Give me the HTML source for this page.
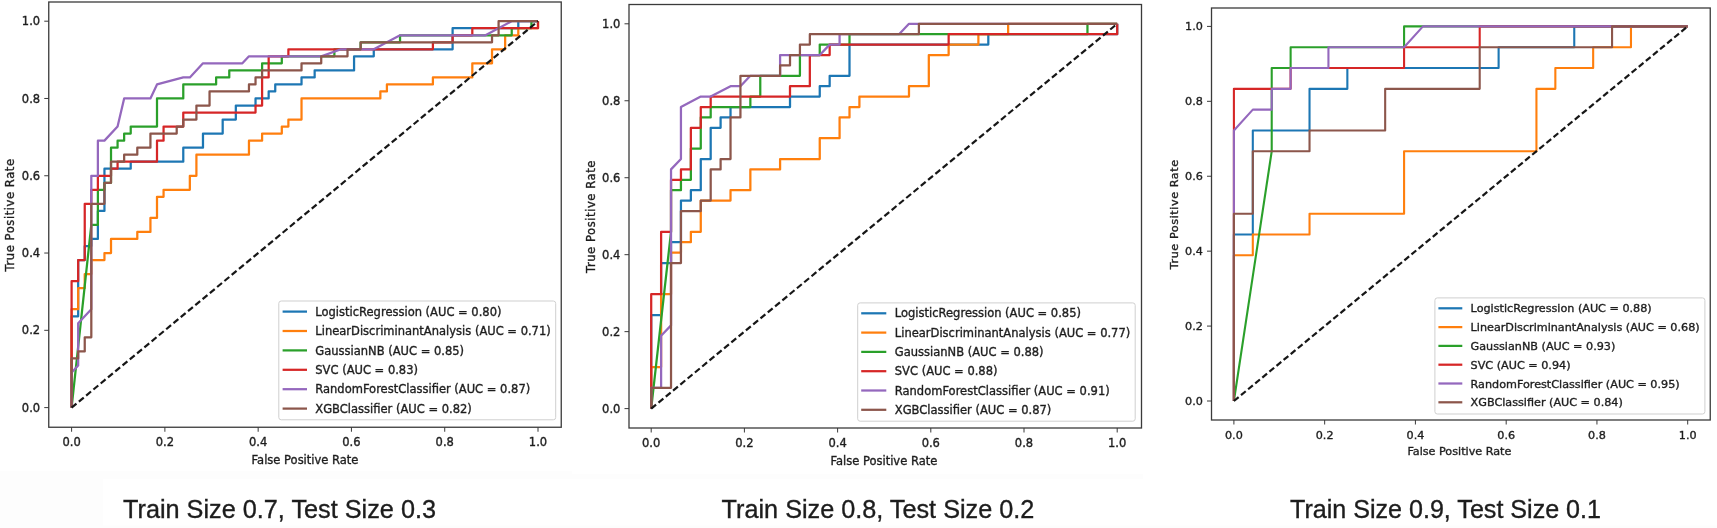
<!DOCTYPE html>
<html lang="en"><head><meta charset="utf-8"><title>ROC curves</title>
<style>html,body{margin:0;padding:0;background:#fdfdfd;}body{width:1717px;height:528px;overflow:hidden;position:relative;}svg{position:absolute;left:0;top:0;display:block;}</style>
</head><body>
<svg width="1717" height="528" viewBox="0 0 1717 528">
<defs><filter id="soft" x="-2%" y="-2%" width="104%" height="104%"><feGaussianBlur stdDeviation="0.5"/></filter><filter id="soft2" x="-2%" y="-20%" width="104%" height="140%"><feGaussianBlur stdDeviation="0.4"/></filter></defs>
<rect x="0" y="0" width="1717" height="528" fill="#fdfdfd"/>
<rect x="0" y="0" width="572" height="470.7" fill="#ffffff"/>
<rect x="572" y="0" width="571" height="473.7" fill="#ffffff"/>
<rect x="1143" y="0" width="574" height="479.5" fill="#ffffff"/>
<rect x="103.3" y="479" width="1614" height="46.5" fill="#ffffff"/>
<g font-family="'DejaVu Sans','Liberation Sans',sans-serif" font-size="11.5" fill="#1f1f1f" stroke="#1f1f1f" stroke-width="0.36" filter="url(#soft)">
<polyline points="71.60,407.60 71.60,316.27 78.17,316.27 78.17,260.07 84.74,260.07 84.74,246.01 91.31,246.01 91.31,238.99 97.88,238.99 97.88,210.89 104.45,210.89 104.45,168.73 130.72,168.73 130.72,161.71 183.27,161.71 183.27,147.66 202.98,147.66 202.98,133.61 222.69,133.61 222.69,119.56 235.83,119.56 235.83,105.51 255.53,105.51 255.53,98.48 268.67,98.48 268.67,91.45 275.24,91.45 275.24,84.43 301.52,84.43 301.52,77.40 314.65,77.40 314.65,70.38 354.07,70.38 354.07,56.33 373.77,56.33 373.77,49.30 452.60,49.30 452.60,28.23 518.29,28.23 518.29,21.20 538.00,21.20" fill="none" stroke="#1f77b4" stroke-width="2.25" stroke-linejoin="round" stroke-linecap="butt"/>
<polyline points="71.60,407.60 71.60,309.24 78.17,309.24 78.17,288.17 84.74,288.17 84.74,274.12 91.31,274.12 91.31,260.07 104.45,260.07 104.45,253.04 111.01,253.04 111.01,238.99 137.29,238.99 137.29,231.96 150.43,231.96 150.43,217.91 157.00,217.91 157.00,196.84 163.57,196.84 163.57,189.81 189.84,189.81 189.84,175.76 196.41,175.76 196.41,154.68 248.96,154.68 248.96,140.63 262.10,140.63 262.10,133.61 281.81,133.61 281.81,126.58 288.38,126.58 288.38,119.56 301.52,119.56 301.52,98.48 380.34,98.48 380.34,91.45 386.91,91.45 386.91,84.43 432.90,84.43 432.90,77.40 472.31,77.40 472.31,63.35 492.02,63.35 492.02,49.30 505.15,49.30 505.15,35.25 518.29,35.25 518.29,28.23 538.00,28.23 538.00,21.20" fill="none" stroke="#ff7f0e" stroke-width="2.25" stroke-linejoin="round" stroke-linecap="butt"/>
<polyline points="71.60,407.60 91.31,224.94 97.88,224.94 97.88,189.81 104.45,189.81 104.45,182.79 111.01,182.79 111.01,147.66 117.58,147.66 117.58,140.63 124.15,140.63 124.15,133.61 130.72,133.61 130.72,126.58 157.00,126.58 157.00,98.48 183.27,98.48 183.27,84.43 216.12,84.43 216.12,77.40 229.26,77.40 229.26,70.38 262.10,70.38 262.10,63.35 281.81,63.35 281.81,56.33 334.36,56.33 334.36,49.30 360.64,49.30 360.64,42.28 400.05,42.28 400.05,35.25 511.72,35.25 511.72,28.23 531.43,28.23 531.43,21.20 538.00,21.20" fill="none" stroke="#2ca02c" stroke-width="2.25" stroke-linejoin="round" stroke-linecap="butt"/>
<polyline points="71.60,407.60 71.60,281.14 78.17,281.14 78.17,260.07 84.74,260.07 84.74,203.86 91.31,203.86 91.31,189.81 97.88,189.81 97.88,175.76 111.01,175.76 111.01,168.73 117.58,168.73 117.58,161.71 157.00,161.71 157.00,140.63 163.57,140.63 163.57,126.58 183.27,126.58 183.27,112.53 255.53,112.53 255.53,105.51 262.10,105.51 262.10,77.40 268.67,77.40 268.67,56.33 288.38,56.33 288.38,49.30 432.90,49.30 432.90,42.28 452.60,42.28 452.60,35.25 472.31,35.25 472.31,28.23 538.00,28.23 538.00,21.20" fill="none" stroke="#d62728" stroke-width="2.25" stroke-linejoin="round" stroke-linecap="butt"/>
<polyline points="71.60,407.60 71.60,372.47 78.17,365.45 78.17,323.29 91.31,309.24 91.31,175.76 97.88,175.76 97.88,140.63 104.45,140.63 117.58,126.58 124.15,98.48 150.43,98.48 157.00,84.43 183.27,77.40 189.84,77.40 202.98,63.35 242.39,63.35 248.96,56.33 321.22,56.33 340.93,49.30 373.77,49.30 400.05,35.25 485.45,35.25 511.72,21.20 538.00,21.20" fill="none" stroke="#9467bd" stroke-width="2.25" stroke-linejoin="round" stroke-linecap="butt"/>
<polyline points="71.60,407.60 71.60,358.42 78.17,358.42 78.17,351.40 84.74,351.40 84.74,337.35 91.31,337.35 91.31,203.86 104.45,203.86 104.45,182.79 111.01,182.79 111.01,161.71 124.15,161.71 124.15,154.68 137.29,154.68 137.29,147.66 150.43,147.66 150.43,133.61 176.70,133.61 176.70,126.58 183.27,126.58 183.27,119.56 196.41,119.56 196.41,105.51 209.55,105.51 209.55,91.45 248.96,91.45 248.96,84.43 255.53,84.43 255.53,77.40 262.10,77.40 262.10,70.38 301.52,70.38 301.52,63.35 321.22,63.35 321.22,56.33 347.50,56.33 347.50,49.30 360.64,49.30 360.64,42.28 492.02,42.28 492.02,35.25 498.59,35.25 498.59,21.20 538.00,21.20" fill="none" stroke="#8c564b" stroke-width="2.25" stroke-linejoin="round" stroke-linecap="butt"/>
<line x1="71.60" y1="407.60" x2="538.00" y2="21.20" stroke="#161616" stroke-width="2.2" stroke-dasharray="6.30 3.15"/>
<rect x="48.75" y="2.0" width="512.5" height="425.25" fill="none" stroke="#3a3a3a" stroke-width="1.3"/>
<line x1="71.60" y1="427.25" x2="71.60" y2="431.75" stroke="#3a3a3a" stroke-width="1"/>
<text x="71.60" y="446.39" text-anchor="middle">0.0</text>
<line x1="44.25" y1="407.60" x2="48.75" y2="407.60" stroke="#3a3a3a" stroke-width="1"/>
<text x="40.15" y="411.74" text-anchor="end">0.0</text>
<line x1="164.88" y1="427.25" x2="164.88" y2="431.75" stroke="#3a3a3a" stroke-width="1"/>
<text x="164.88" y="446.39" text-anchor="middle">0.2</text>
<line x1="44.25" y1="330.32" x2="48.75" y2="330.32" stroke="#3a3a3a" stroke-width="1"/>
<text x="40.15" y="334.46" text-anchor="end">0.2</text>
<line x1="258.16" y1="427.25" x2="258.16" y2="431.75" stroke="#3a3a3a" stroke-width="1"/>
<text x="258.16" y="446.39" text-anchor="middle">0.4</text>
<line x1="44.25" y1="253.04" x2="48.75" y2="253.04" stroke="#3a3a3a" stroke-width="1"/>
<text x="40.15" y="257.18" text-anchor="end">0.4</text>
<line x1="351.44" y1="427.25" x2="351.44" y2="431.75" stroke="#3a3a3a" stroke-width="1"/>
<text x="351.44" y="446.39" text-anchor="middle">0.6</text>
<line x1="44.25" y1="175.76" x2="48.75" y2="175.76" stroke="#3a3a3a" stroke-width="1"/>
<text x="40.15" y="179.90" text-anchor="end">0.6</text>
<line x1="444.72" y1="427.25" x2="444.72" y2="431.75" stroke="#3a3a3a" stroke-width="1"/>
<text x="444.72" y="446.39" text-anchor="middle">0.8</text>
<line x1="44.25" y1="98.48" x2="48.75" y2="98.48" stroke="#3a3a3a" stroke-width="1"/>
<text x="40.15" y="102.62" text-anchor="end">0.8</text>
<line x1="538.00" y1="427.25" x2="538.00" y2="431.75" stroke="#3a3a3a" stroke-width="1"/>
<text x="538.00" y="446.39" text-anchor="middle">1.0</text>
<line x1="44.25" y1="21.20" x2="48.75" y2="21.20" stroke="#3a3a3a" stroke-width="1"/>
<text x="40.15" y="25.34" text-anchor="end">1.0</text>
<text x="305.00" y="464.05" text-anchor="middle">False Positive Rate</text>
<text transform="translate(14.25,271.40) rotate(-90)" textLength="112.4" lengthAdjust="spacing">True Positive Rate</text>
<rect x="278.8" y="301" width="276.90" height="118.80" rx="2.4" fill="#fff" fill-opacity="0.8" stroke="#cfcfcf" stroke-width="1"/>
<line x1="282.6" y1="311.6" x2="307" y2="311.6" stroke="#1f77b4" stroke-width="2.25"/>
<text x="315.3" y="315.74">LogisticRegression (AUC = 0.80)</text>
<line x1="282.6" y1="331.0" x2="307" y2="331.0" stroke="#ff7f0e" stroke-width="2.25"/>
<text x="315.3" y="335.14">LinearDiscriminantAnalysis (AUC = 0.71)</text>
<line x1="282.6" y1="350.4" x2="307" y2="350.4" stroke="#2ca02c" stroke-width="2.25"/>
<text x="315.3" y="354.54">GaussianNB (AUC = 0.85)</text>
<line x1="282.6" y1="369.8" x2="307" y2="369.8" stroke="#d62728" stroke-width="2.25"/>
<text x="315.3" y="373.94">SVC (AUC = 0.83)</text>
<line x1="282.6" y1="389.2" x2="307" y2="389.2" stroke="#9467bd" stroke-width="2.25"/>
<text x="315.3" y="393.34">RandomForestClassifier (AUC = 0.87)</text>
<line x1="282.6" y1="408.6" x2="307" y2="408.6" stroke="#8c564b" stroke-width="2.25"/>
<text x="315.3" y="412.74">XGBClassifier (AUC = 0.82)</text>
</g>
<g font-family="'DejaVu Sans','Liberation Sans',sans-serif" font-size="11.5" fill="#1f1f1f" stroke="#1f1f1f" stroke-width="0.36" filter="url(#soft)">
<polyline points="651.20,408.60 651.20,315.00 661.11,315.00 661.11,263.00 671.03,263.00 671.03,242.20 680.94,242.20 680.94,200.60 690.86,200.60 690.86,190.20 700.77,190.20 700.77,159.00 710.69,159.00 710.69,127.80 720.60,127.80 720.60,117.40 730.52,117.40 730.52,107.00 790.01,107.00 790.01,96.60 819.75,96.60 819.75,86.20 829.67,86.20 829.67,75.80 849.50,75.80 849.50,44.60 988.31,44.60 988.31,34.20 1117.20,34.20 1117.20,23.80" fill="none" stroke="#1f77b4" stroke-width="2.25" stroke-linejoin="round" stroke-linecap="butt"/>
<polyline points="651.20,408.60 651.20,367.00 661.11,367.00 661.11,294.20 671.03,294.20 671.03,252.60 680.94,252.60 680.94,242.20 690.86,242.20 690.86,231.80 700.77,231.80 700.77,200.60 730.52,200.60 730.52,190.20 750.35,190.20 750.35,169.40 780.09,169.40 780.09,159.00 819.75,159.00 819.75,138.20 839.58,138.20 839.58,117.40 849.50,117.40 849.50,107.00 859.41,107.00 859.41,96.60 908.99,96.60 908.99,86.20 928.82,86.20 928.82,55.00 948.65,55.00 948.65,44.60 978.39,44.60 978.39,34.20 1008.14,34.20 1008.14,23.80 1117.20,23.80" fill="none" stroke="#ff7f0e" stroke-width="2.25" stroke-linejoin="round" stroke-linecap="butt"/>
<polyline points="651.20,408.60 671.03,231.80 671.03,190.20 680.94,190.20 680.94,179.80 690.86,179.80 690.86,148.60 700.77,148.60 700.77,117.40 710.69,117.40 710.69,107.00 750.35,107.00 750.35,96.60 760.26,96.60 760.26,75.80 799.92,75.80 799.92,55.00 819.75,55.00 819.75,44.60 849.50,44.60 849.50,34.20 1087.46,34.20 1087.46,23.80 1117.20,23.80" fill="none" stroke="#2ca02c" stroke-width="2.25" stroke-linejoin="round" stroke-linecap="butt"/>
<polyline points="651.20,408.60 651.20,294.20 661.11,294.20 661.11,231.80 671.03,231.80 671.03,179.80 680.94,179.80 680.94,169.40 690.86,169.40 690.86,127.80 700.77,127.80 700.77,107.00 710.69,107.00 710.69,96.60 790.01,96.60 790.01,86.20 809.84,86.20 809.84,55.00 829.67,55.00 829.67,44.60 948.65,44.60 948.65,34.20 1117.20,34.20 1117.20,23.80" fill="none" stroke="#d62728" stroke-width="2.25" stroke-linejoin="round" stroke-linecap="butt"/>
<polyline points="651.20,408.60 651.20,387.80 661.11,387.80 661.11,335.80 671.03,325.40 671.03,169.40 680.94,159.00 680.94,107.00 700.77,96.60 710.69,96.60 730.52,86.20 740.43,86.20 750.35,75.80 780.09,75.80 780.09,55.00 819.75,55.00 829.67,44.60 839.58,44.60 839.58,34.20 899.07,34.20 908.99,23.80 1117.20,23.80" fill="none" stroke="#9467bd" stroke-width="2.25" stroke-linejoin="round" stroke-linecap="butt"/>
<polyline points="651.20,408.60 651.20,387.80 671.03,387.80 671.03,263.00 680.94,263.00 680.94,211.00 700.77,211.00 700.77,200.60 710.69,200.60 710.69,169.40 720.60,169.40 720.60,159.00 730.52,159.00 730.52,117.40 740.43,117.40 740.43,75.80 780.09,75.80 780.09,65.40 790.01,65.40 790.01,55.00 799.92,55.00 799.92,44.60 809.84,44.60 809.84,34.20 918.90,34.20 918.90,23.80 1117.20,23.80" fill="none" stroke="#8c564b" stroke-width="2.25" stroke-linejoin="round" stroke-linecap="butt"/>
<line x1="651.20" y1="408.60" x2="1117.20" y2="23.80" stroke="#161616" stroke-width="2.2" stroke-dasharray="6.30 3.15"/>
<rect x="629.0" y="4.5" width="512.5" height="423.5" fill="none" stroke="#3a3a3a" stroke-width="1.3"/>
<line x1="651.20" y1="428.0" x2="651.20" y2="432.5" stroke="#3a3a3a" stroke-width="1"/>
<text x="651.20" y="447.14" text-anchor="middle">0.0</text>
<line x1="624.5" y1="408.60" x2="629.0" y2="408.60" stroke="#3a3a3a" stroke-width="1"/>
<text x="620.40" y="412.74" text-anchor="end">0.0</text>
<line x1="744.40" y1="428.0" x2="744.40" y2="432.5" stroke="#3a3a3a" stroke-width="1"/>
<text x="744.40" y="447.14" text-anchor="middle">0.2</text>
<line x1="624.5" y1="331.64" x2="629.0" y2="331.64" stroke="#3a3a3a" stroke-width="1"/>
<text x="620.40" y="335.78" text-anchor="end">0.2</text>
<line x1="837.60" y1="428.0" x2="837.60" y2="432.5" stroke="#3a3a3a" stroke-width="1"/>
<text x="837.60" y="447.14" text-anchor="middle">0.4</text>
<line x1="624.5" y1="254.68" x2="629.0" y2="254.68" stroke="#3a3a3a" stroke-width="1"/>
<text x="620.40" y="258.82" text-anchor="end">0.4</text>
<line x1="930.80" y1="428.0" x2="930.80" y2="432.5" stroke="#3a3a3a" stroke-width="1"/>
<text x="930.80" y="447.14" text-anchor="middle">0.6</text>
<line x1="624.5" y1="177.72" x2="629.0" y2="177.72" stroke="#3a3a3a" stroke-width="1"/>
<text x="620.40" y="181.86" text-anchor="end">0.6</text>
<line x1="1024.00" y1="428.0" x2="1024.00" y2="432.5" stroke="#3a3a3a" stroke-width="1"/>
<text x="1024.00" y="447.14" text-anchor="middle">0.8</text>
<line x1="624.5" y1="100.76" x2="629.0" y2="100.76" stroke="#3a3a3a" stroke-width="1"/>
<text x="620.40" y="104.90" text-anchor="end">0.8</text>
<line x1="1117.20" y1="428.0" x2="1117.20" y2="432.5" stroke="#3a3a3a" stroke-width="1"/>
<text x="1117.20" y="447.14" text-anchor="middle">1.0</text>
<line x1="624.5" y1="23.80" x2="629.0" y2="23.80" stroke="#3a3a3a" stroke-width="1"/>
<text x="620.40" y="27.94" text-anchor="end">1.0</text>
<text x="883.85" y="464.80" text-anchor="middle">False Positive Rate</text>
<text transform="translate(594.50,273.03) rotate(-90)" textLength="112.4" lengthAdjust="spacing">True Positive Rate</text>
<rect x="857.7" y="302.9" width="277.50" height="118.30" rx="2.4" fill="#fff" fill-opacity="0.8" stroke="#cfcfcf" stroke-width="1"/>
<line x1="861.2" y1="313.3" x2="886.3" y2="313.3" stroke="#1f77b4" stroke-width="2.25"/>
<text x="894.8" y="317.44">LogisticRegression (AUC = 0.85)</text>
<line x1="861.2" y1="332.6" x2="886.3" y2="332.6" stroke="#ff7f0e" stroke-width="2.25"/>
<text x="894.8" y="336.74">LinearDiscriminantAnalysis (AUC = 0.77)</text>
<line x1="861.2" y1="351.9" x2="886.3" y2="351.9" stroke="#2ca02c" stroke-width="2.25"/>
<text x="894.8" y="356.04">GaussianNB (AUC = 0.88)</text>
<line x1="861.2" y1="371.2" x2="886.3" y2="371.2" stroke="#d62728" stroke-width="2.25"/>
<text x="894.8" y="375.34">SVC (AUC = 0.88)</text>
<line x1="861.2" y1="390.5" x2="886.3" y2="390.5" stroke="#9467bd" stroke-width="2.25"/>
<text x="894.8" y="394.64">RandomForestClassifier (AUC = 0.91)</text>
<line x1="861.2" y1="409.8" x2="886.3" y2="409.8" stroke="#8c564b" stroke-width="2.25"/>
<text x="894.8" y="413.94">XGBClassifier (AUC = 0.87)</text>
</g>
<g font-family="'DejaVu Sans','Liberation Sans',sans-serif" font-size="11.2" fill="#1f1f1f" stroke="#1f1f1f" stroke-width="0.36" filter="url(#soft)">
<polyline points="1233.90,401.00 1233.90,234.51 1252.81,234.51 1252.81,130.46 1309.53,130.46 1309.53,88.83 1347.35,88.83 1347.35,68.02 1498.62,68.02 1498.62,47.21 1574.25,47.21 1574.25,26.40 1687.70,26.40" fill="none" stroke="#1f77b4" stroke-width="2.1" stroke-linejoin="round" stroke-linecap="butt"/>
<polyline points="1233.90,401.00 1233.90,255.32 1252.81,255.32 1252.81,234.51 1309.53,234.51 1309.53,213.70 1404.08,213.70 1404.08,151.27 1536.43,151.27 1536.43,88.83 1555.34,88.83 1555.34,68.02 1593.16,68.02 1593.16,47.21 1630.97,47.21 1630.97,26.40 1687.70,26.40" fill="none" stroke="#ff7f0e" stroke-width="2.1" stroke-linejoin="round" stroke-linecap="butt"/>
<polyline points="1233.90,401.00 1271.72,151.27 1271.72,68.02 1290.62,68.02 1290.62,47.21 1404.08,47.21 1404.08,26.40 1687.70,26.40" fill="none" stroke="#2ca02c" stroke-width="2.1" stroke-linejoin="round" stroke-linecap="butt"/>
<polyline points="1233.90,401.00 1233.90,88.83 1290.62,88.83 1290.62,68.02 1404.08,68.02 1404.08,47.21 1479.71,47.21 1479.71,26.40 1687.70,26.40" fill="none" stroke="#d62728" stroke-width="2.1" stroke-linejoin="round" stroke-linecap="butt"/>
<polyline points="1233.90,401.00 1233.90,130.46 1252.81,109.64 1271.72,109.64 1271.72,88.83 1290.62,88.83 1290.62,68.02 1328.44,68.02 1328.44,47.21 1404.08,47.21 1422.98,26.40 1687.70,26.40" fill="none" stroke="#9467bd" stroke-width="2.1" stroke-linejoin="round" stroke-linecap="butt"/>
<polyline points="1233.90,401.00 1233.90,213.70 1252.81,213.70 1252.81,151.27 1309.53,151.27 1309.53,130.46 1385.17,130.46 1385.17,88.83 1479.71,88.83 1479.71,47.21 1612.07,47.21 1612.07,26.40 1687.70,26.40" fill="none" stroke="#8c564b" stroke-width="2.1" stroke-linejoin="round" stroke-linecap="butt"/>
<line x1="1233.90" y1="401.00" x2="1687.70" y2="26.40" stroke="#161616" stroke-width="2.2" stroke-dasharray="6.14 3.07"/>
<rect x="1211.5" y="8.0" width="498.75" height="412.0" fill="none" stroke="#3a3a3a" stroke-width="1.3"/>
<line x1="1233.90" y1="420.0" x2="1233.90" y2="424.5" stroke="#3a3a3a" stroke-width="1"/>
<text x="1233.90" y="438.91" text-anchor="middle">0.0</text>
<line x1="1207.0" y1="401.00" x2="1211.5" y2="401.00" stroke="#3a3a3a" stroke-width="1"/>
<text x="1202.90" y="405.03" text-anchor="end">0.0</text>
<line x1="1324.66" y1="420.0" x2="1324.66" y2="424.5" stroke="#3a3a3a" stroke-width="1"/>
<text x="1324.66" y="438.91" text-anchor="middle">0.2</text>
<line x1="1207.0" y1="326.08" x2="1211.5" y2="326.08" stroke="#3a3a3a" stroke-width="1"/>
<text x="1202.90" y="330.11" text-anchor="end">0.2</text>
<line x1="1415.42" y1="420.0" x2="1415.42" y2="424.5" stroke="#3a3a3a" stroke-width="1"/>
<text x="1415.42" y="438.91" text-anchor="middle">0.4</text>
<line x1="1207.0" y1="251.16" x2="1211.5" y2="251.16" stroke="#3a3a3a" stroke-width="1"/>
<text x="1202.90" y="255.19" text-anchor="end">0.4</text>
<line x1="1506.18" y1="420.0" x2="1506.18" y2="424.5" stroke="#3a3a3a" stroke-width="1"/>
<text x="1506.18" y="438.91" text-anchor="middle">0.6</text>
<line x1="1207.0" y1="176.24" x2="1211.5" y2="176.24" stroke="#3a3a3a" stroke-width="1"/>
<text x="1202.90" y="180.27" text-anchor="end">0.6</text>
<line x1="1596.94" y1="420.0" x2="1596.94" y2="424.5" stroke="#3a3a3a" stroke-width="1"/>
<text x="1596.94" y="438.91" text-anchor="middle">0.8</text>
<line x1="1207.0" y1="101.32" x2="1211.5" y2="101.32" stroke="#3a3a3a" stroke-width="1"/>
<text x="1202.90" y="105.35" text-anchor="end">0.8</text>
<line x1="1687.70" y1="420.0" x2="1687.70" y2="424.5" stroke="#3a3a3a" stroke-width="1"/>
<text x="1687.70" y="438.91" text-anchor="middle">1.0</text>
<line x1="1207.0" y1="26.40" x2="1211.5" y2="26.40" stroke="#3a3a3a" stroke-width="1"/>
<text x="1202.90" y="30.43" text-anchor="end">1.0</text>
<text x="1459.38" y="454.84" text-anchor="middle">False Positive Rate</text>
<text transform="translate(1177.90,269.31) rotate(-90)" textLength="109.4" lengthAdjust="spacing">True Positive Rate</text>
<rect x="1434.9" y="297.9" width="270.00" height="116.10" rx="2.4" fill="#fff" fill-opacity="0.8" stroke="#cfcfcf" stroke-width="1"/>
<line x1="1438.4" y1="308.3" x2="1462.3" y2="308.3" stroke="#1f77b4" stroke-width="2.25"/>
<text x="1470.6" y="312.33">LogisticRegression (AUC = 0.88)</text>
<line x1="1438.4" y1="327.1" x2="1462.3" y2="327.1" stroke="#ff7f0e" stroke-width="2.25"/>
<text x="1470.6" y="331.13">LinearDiscriminantAnalysis (AUC = 0.68)</text>
<line x1="1438.4" y1="345.9" x2="1462.3" y2="345.9" stroke="#2ca02c" stroke-width="2.25"/>
<text x="1470.6" y="349.93">GaussianNB (AUC = 0.93)</text>
<line x1="1438.4" y1="364.7" x2="1462.3" y2="364.7" stroke="#d62728" stroke-width="2.25"/>
<text x="1470.6" y="368.73">SVC (AUC = 0.94)</text>
<line x1="1438.4" y1="383.5" x2="1462.3" y2="383.5" stroke="#9467bd" stroke-width="2.25"/>
<text x="1470.6" y="387.53">RandomForestClassifier (AUC = 0.95)</text>
<line x1="1438.4" y1="402.3" x2="1462.3" y2="402.3" stroke="#8c564b" stroke-width="2.25"/>
<text x="1470.6" y="406.33">XGBClassifier (AUC = 0.84)</text>
</g>
<g font-family="'Liberation Sans',sans-serif" font-size="25.5" fill="#1c1c1c" stroke="#1c1c1c" stroke-width="0.35" filter="url(#soft2)">
<text x="123.0" y="518.2" textLength="313.0" lengthAdjust="spacingAndGlyphs">Train Size 0.7, Test Size 0.3</text>
<text x="721.6" y="517.9" textLength="312.7" lengthAdjust="spacingAndGlyphs">Train Size 0.8, Test Size 0.2</text>
<text x="1290.0" y="517.9" textLength="311.0" lengthAdjust="spacingAndGlyphs">Train Size 0.9, Test Size 0.1</text>
</g>
</svg></body></html>
